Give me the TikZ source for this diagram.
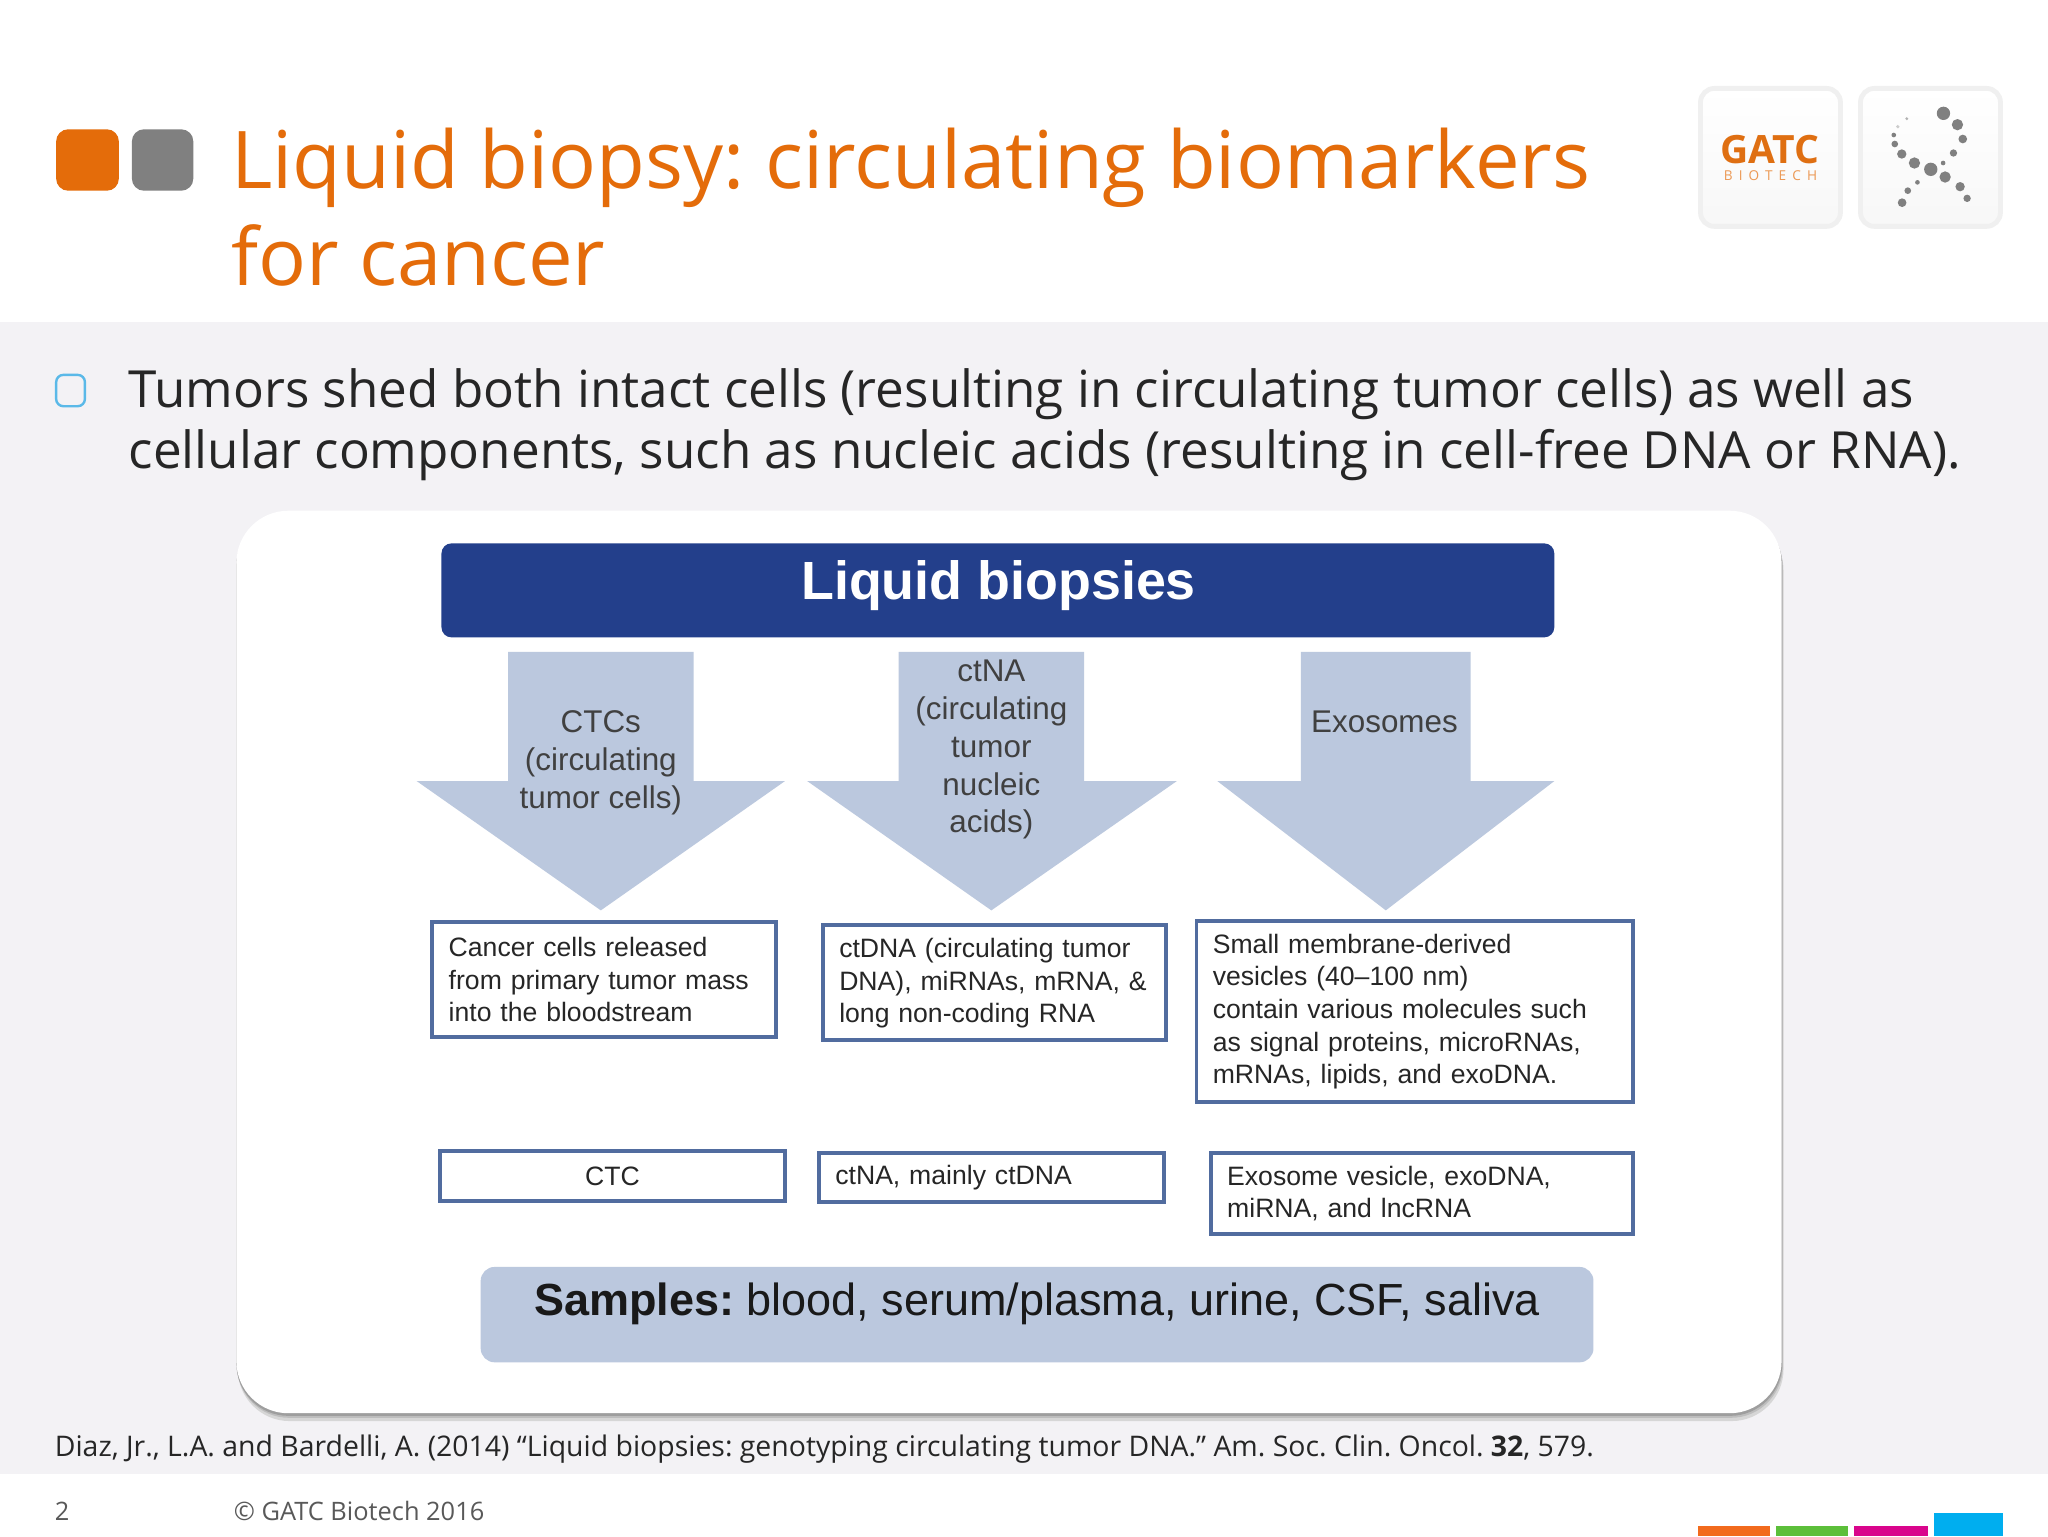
\documentclass[tikz,border=0pt]{standalone}
\usepackage{fontspec}
\setmainfont{Liberation Sans}
\newfontfamily\opensans{Open Sans}
\newfontfamily\spacedopen[LetterSpace=45]{Open Sans}
\definecolor{titleorange}{HTML}{E46C0A}
\definecolor{squaregray}{HTML}{808080}
\definecolor{pagegray}{HTML}{F3F2F5}
\definecolor{bodyink}{HTML}{262626}
\definecolor{bulletblue}{HTML}{5AB9E8}
\definecolor{headerblue}{HTML}{233F8B}
\definecolor{softblue}{HTML}{BBC8DE}
\definecolor{boxedge}{HTML}{516C9F}
\definecolor{footink}{HTML}{595959}
\definecolor{stripA}{HTML}{F26B1D}
\definecolor{stripB}{HTML}{5CBF3A}
\definecolor{stripC}{HTML}{D9058C}
\definecolor{stripD}{HTML}{00AEEF}
\tikzset{
  txt/.style={inner sep=0pt,outer sep=0pt},
  arrowshape/.style={fill=softblue,draw=none},
  arrowtext/.style={txt,align=center,font=\fontsize{15.7}{18.9}\selectfont,text=black!75},
  tboxstyle/.style={draw=boxedge,line width=1.9pt,fill=white,align=left,
    inner xsep=8.2pt,inner ysep=0pt,font=\fontsize{13.3}{16.3}\selectfont,text=black!85},
  tile/.style={draw=black!6,line width=2.4pt,top color=white,bottom color=black!3,rounded corners=7pt},
  dot/.style={fill=black!50,draw=none},
}
\newcommand{\tbox}[7][left]{%
  \pgfmathsetmacro{\tw}{(#4-#2)*0.65306-16.4}%
  \pgfmathsetmacro{\th}{(#5-#3)*0.65306}%
  \node[tboxstyle,align=#1,text width=\tw pt,minimum height=\th pt] (#6) at ({(#2+#4)/2},{(#3+#5)/2}) {#7};%
}
\begin{document}
\frenchspacing
\begin{tikzpicture}[x=0.65306pt,y=-0.65306pt]
\useasboundingbox (0,0) rectangle (1568,1176);
\fill[white] (0,0) rectangle (1568,1176);
\fill[pagegray] (0,246.5) rectangle (1568,1128.5);
% title marks
\fill[titleorange,rounded corners=6pt] (43,99) rectangle (91,146);
\fill[squaregray,rounded corners=6pt] (101,99) rectangle (148,146);
\node[txt,anchor=north west,align=left,text=titleorange,
  font=\opensans\fontsize{39.8}{48.5}\selectfont] (title) at (177,98)
  {Liquid biopsy: circulating biomarkers\\for cancer};
% logos
\node[tile,minimum width=70pt,minimum height=69pt,inner sep=0pt] (tileA) at (1355.5,120.5) {};
\node[tile,minimum width=70pt,minimum height=69pt,inner sep=0pt] (tileB) at (1478,120.5) {};
\node[txt,text=titleorange!85!brown,font=\opensans\bfseries\fontsize{19.5}{20}\selectfont] (gatc) at (1355,114.5) {GATC};
\node[txt,text=titleorange!70!white,font=\spacedopen\fontsize{6.8}{8}\selectfont] (biotech) at (1355.5,134.5) {BIOTECH};
\begin{scope}[shift={(1271,45.94)},x=0.16667pt,y=-0.16667pt]
  \foreach \px/\py/\pr in {850/160/20,892/194/17,908/237/13,880/279/11,849/309/7,812/328/20,
     763/309/17,725/282/14,704/252/10,701/225/7,855/351/17,900/380/14,921/415/11,772/367/7,
     743/392/10,726/428/13}
    \fill[dot] (\px,\py) circle[radius=\pr*0.16667pt];
  \fill[black!20] (713,200) circle[radius=0.9pt];
  \fill[black!30] (740,176) circle[radius=0.8pt];
\end{scope}
% bullet
\draw[bulletblue,line width=1.2pt,rounded corners=3.6pt] (43,287) rectangle (65,311);
\node[txt,anchor=north west,align=left,text=bodyink,
  font=\opensans\fontsize{25.6}{30.5}\selectfont] (lead) at (98.5,282)
  {Tumors shed both intact cells (resulting in circulating tumor cells) as well as\\cellular components, such as nucleic acids (resulting in cell-free DNA or RNA).};
% panel
\fill[black!16,rounded corners=26pt] (182,397) rectangle (1365.5,1088);
\fill[black!26,rounded corners=26pt] (181.5,395) rectangle (1365,1085.5);
\fill[black!38,rounded corners=26pt] (181,393) rectangle (1364.5,1084);
\fill[white,rounded corners=26pt] (181,391) rectangle (1364,1082);
% header
\node[fill=headerblue,rounded corners=5pt,minimum width=556.4pt,minimum height=47pt,inner sep=0pt] (head) at (764,452) {};
\node[txt,text=white,font=\bfseries\fontsize{26.9}{30}\selectfont] (headtext) at (764.5,448) {Liquid biopsies};
% arrows
\fill[arrowshape] (389,499)--(531,499)--(531,598)--(601,598)--(460,697)--(319,598)--(389,598)--cycle;
\fill[arrowshape] (688,499)--(830,499)--(830,598)--(901,598)--(759,697)--(618,598)--(688,598)--cycle;
\fill[arrowshape] (996,499)--(1126,499)--(1126,598)--(1190,598)--(1061,697)--(932,598)--(996,598)--cycle;
\node[arrowtext] (ctcs) at (460,584) {CTCs\\(circulating\\tumor cells)};
\node[arrowtext] (ctna) at (759,574) {ctNA\\(circulating\\tumor\\nucleic\\acids)};
\node[arrowtext] (exo) at (1060,553) {Exosomes};
% boxes
\tbox{331}{706}{594}{794}{boxA}{Cancer cells released\\from primary tumor mass\\into the bloodstream}
\tbox{630}{708}{893}{796}{boxB}{\rule{0pt}{0pt}ctDNA (circulating tumor\\DNA), miRNAs, mRNA, \&\\long non-coding RNA\\[-14.7pt]\rule{0pt}{0pt}}
\tbox{916}{705}{1250}{844}{boxC}{Small membrane-derived\\vesicles (40–100 nm)\\contain various molecules such\\as signal proteins, microRNAs,\\mRNAs, lipids, and exoDNA.}
\tbox[center]{337}{881.5}{601}{919.5}{boxD}{CTC}
\tbox{627}{882.5}{891}{920.5}{boxE}{ctNA, mainly ctDNA}
\tbox{927}{882.5}{1250}{945}{boxF}{Exosome vesicle, exoDNA,\\miRNA, and lncRNA}
% samples
\node[fill=softblue,rounded corners=7pt,minimum width=556.4pt,minimum height=47.7pt,inner sep=0pt] (samples) at (794,1006.5) {};
\node[txt,anchor=base west,text=black!90,font=\fontsize{22.5}{26}\selectfont] (samplestext) at (409,1007) {\textbf{Samples:} blood, serum/plasma, urine, CSF, saliva};
% citation and footer
\node[txt,anchor=base west,text=bodyink,font=\opensans\fontsize{14.2}{17}\selectfont] (cite) at (42,1115)
  {Diaz, Jr., L.A. and Bardelli, A. (2014) “Liquid biopsies: genotyping circulating tumor DNA.” Am. Soc. Clin. Oncol. \textbf{32}, 579.};
\node[txt,anchor=base west,text=footink,font=\opensans\fontsize{12.7}{16}\selectfont] (pageno) at (42,1164) {2};
\node[txt,anchor=base west,text=footink,font=\opensans\fontsize{12.7}{16}\selectfont] (copy) at (179,1164) {© GATC Biotech 2016};
% colour strip
\fill[stripA] (1300,1168) rectangle (1355,1176);
\fill[stripB] (1360,1168) rectangle (1415,1176);
\fill[stripC] (1419.5,1168) rectangle (1476,1176);
\fill[stripD] (1481,1158) rectangle (1533.5,1176);
\end{tikzpicture}
\end{document}
